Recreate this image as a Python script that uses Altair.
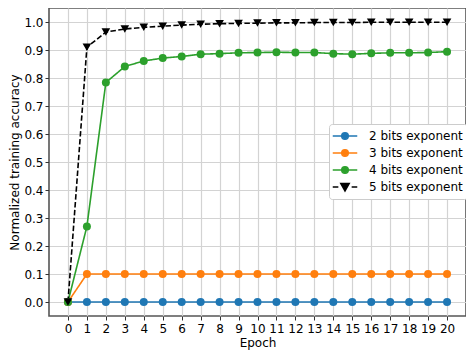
import altair as alt
import pandas as pd

epochs = [0, 1, 2, 3, 4, 5, 6, 7, 8, 9, 10, 11, 12, 13, 14, 15, 16, 17, 18, 19, 20]
series_names = ["2 bits exponent", "3 bits exponent", "4 bits exponent", "5 bits exponent"]
acc_2bits = [0.0, 0.0, 0.0, 0.0, 0.0, 0.0, 0.0, 0.0, 0.0, 0.0, 0.0,
             0.0, 0.0, 0.0, 0.0, 0.0, 0.0, 0.0, 0.0, 0.0, 0.0]
acc_3bits = [0.0, 0.1, 0.1, 0.1, 0.1, 0.1, 0.1, 0.1, 0.1, 0.1, 0.1,
             0.1, 0.1, 0.1, 0.1, 0.1, 0.1, 0.1, 0.1, 0.1, 0.1]
acc_4bits = [0.0, 0.27, 0.784, 0.841, 0.861, 0.871, 0.877, 0.885, 0.887, 0.890, 0.891,
             0.892, 0.891, 0.891, 0.887, 0.885, 0.888, 0.890, 0.890, 0.891, 0.894]
acc_5bits = [0.0, 0.910, 0.964, 0.975, 0.981, 0.985, 0.989, 0.992, 0.994, 0.995, 0.996,
             0.997, 0.997, 0.998, 0.998, 0.998, 0.999, 0.999, 0.999, 0.999, 0.999]
colors = ["#1f77b4", "#ff7f0e", "#2ca02c", "#000000"]

rows = []
for name, vals in zip(series_names, [acc_2bits, acc_3bits, acc_4bits, acc_5bits]):
    for e, v in zip(epochs, vals):
        rows.append({"epoch": e, "acc": v, "series": name})
df = pd.DataFrame(rows)

FONT = "DejaVu Sans"

x_enc = alt.X("epoch:Q", scale=alt.Scale(domain=[-1, 21], nice=False, zero=False),
              axis=alt.Axis(values=epochs, title="Epoch", format="d"))
y_enc = alt.Y("acc:Q", scale=alt.Scale(domain=[-0.05, 1.05], nice=False, zero=False),
              axis=alt.Axis(values=[0.0, 0.1, 0.2, 0.3, 0.4, 0.5, 0.6, 0.7, 0.8, 0.9, 1.0],
                            format=".1f", title="Normalized training accuracy"))
color_scale = alt.Scale(domain=series_names, range=colors)

base = alt.Chart(df)

lines = base.mark_line(strokeWidth=1.6).encode(
    x=x_enc, y=y_enc,
    color=alt.Color("series:N", scale=color_scale, legend=None),
    strokeDash=alt.StrokeDash("series:N",
                              scale=alt.Scale(domain=series_names,
                                              range=[[1, 0], [1, 0], [1, 0], [5.5, 2.4]]),
                              legend=None),
    order=alt.Order("epoch:Q"),
)

circles = base.transform_filter(
    alt.datum.series != "5 bits exponent"
).mark_point(filled=True, size=64, opacity=1, shape="circle").encode(
    x=x_enc, y=y_enc,
    color=alt.Color("series:N", scale=color_scale, legend=None),
)

triangles = base.transform_filter(
    alt.datum.series == "5 bits exponent"
).mark_point(filled=True, size=75, opacity=1, shape="triangle-down").encode(
    x=x_enc, y=y_enc,
    color=alt.Color("series:N", scale=color_scale, legend=None),
)

# legend glyphs: line with marker (unit coords, scaled by sqrt(size)/2)
circle_line = "M-1.75,0L1.75,0M-0.47,0A0.47,0.47,0,1,0,0.47,0A0.47,0.47,0,1,0,-0.47,0Z"
dash_tri = "M-1.75,0L-0.95,0M0.95,0L1.75,0M-0.6,-0.5L0.6,-0.5L0,0.58Z"

leg = alt.Legend(title=None, orient="none", legendX=280, legendY=116,
                 symbolSize=196, symbolStrokeWidth=1.5, symbolOpacity=1)

legend_layer = base.transform_filter(alt.datum.epoch == 0).mark_point(
    filled=True, size=196, opacity=0
).encode(
    x=x_enc, y=y_enc,
    fill=alt.Fill("series:N", scale=alt.Scale(range=colors), legend=leg),
    stroke=alt.Stroke("series:N", scale=alt.Scale(range=colors), legend=leg),
    shape=alt.Shape("series:N",
                    scale=alt.Scale(range=[circle_line, circle_line, circle_line, dash_tri]),
                    legend=leg),
)

chart = alt.layer(lines, circles, triangles, legend_layer).properties(
    width=417, height=308,
    autosize=alt.AutoSizeParams(type="none"),
    padding={"left": 41, "top": 0, "right": 0, "bottom": 34},
).configure_view(
    stroke="#555555", strokeWidth=1.6
).configure_axis(
    labelFont=FONT, titleFont=FONT, labelFontSize=12, titleFontSize=12,
    titleFontWeight="normal", labelColor="#000000", titleColor="#000000",
    tickColor="#333333", tickSize=4, tickWidth=1,
    grid=True, gridColor="#d3d3d3", gridWidth=1.2, domain=False,
).configure_axisY(
    titlePadding=2, labelPadding=2,
).configure_axisX(
    titlePadding=3, labelPadding=3,
).configure_legend(
    labelFont=FONT, labelFontSize=12, labelColor="#000000",
    strokeColor="#cccccc", fillColor="#ffffff", padding=4, cornerRadius=3,
    rowPadding=2, symbolOffset=4, labelOffset=16,
)

chart.save("out.html", embed_options={"renderer": "svg", "actions": False})
